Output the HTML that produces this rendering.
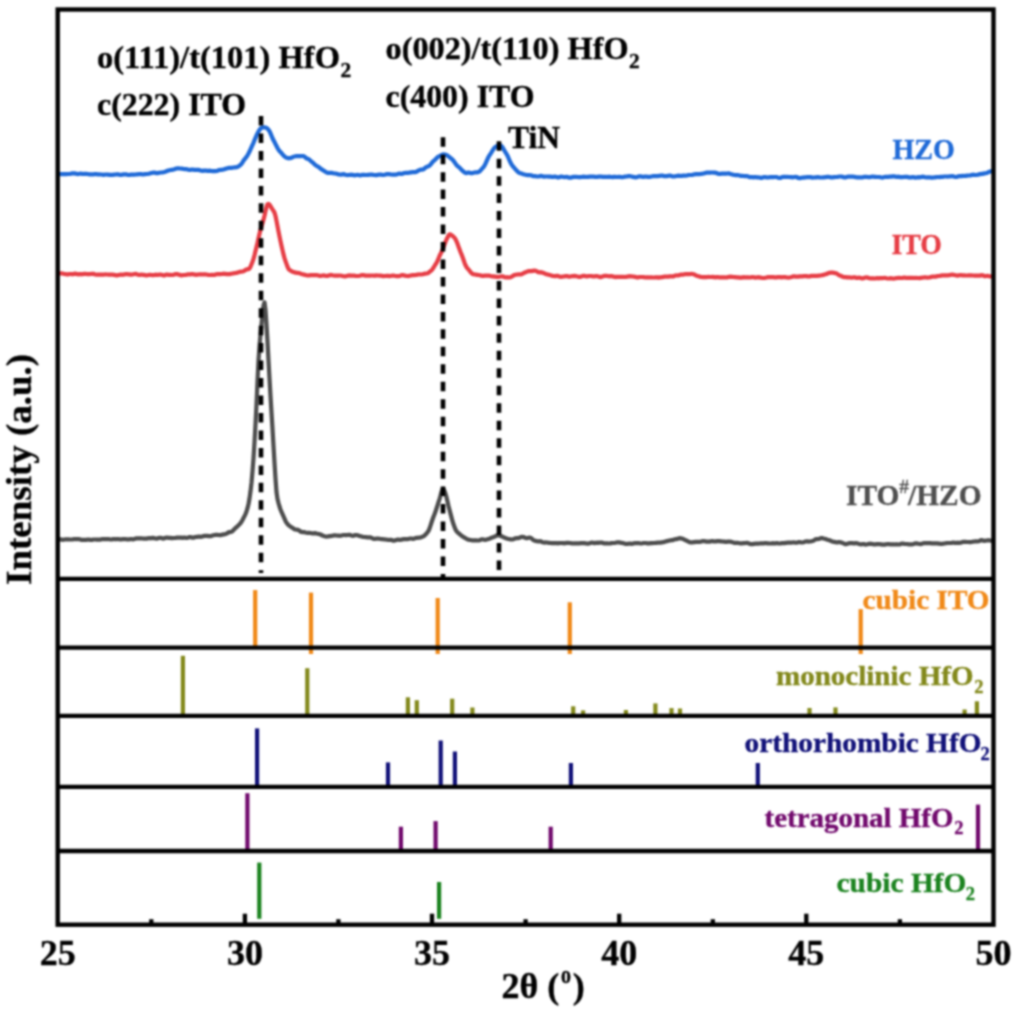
<!DOCTYPE html>
<html><head><meta charset="utf-8"><title>XRD patterns</title>
<style>html,body{margin:0;padding:0;background:#fff;width:1025px;height:1011px;overflow:hidden}</style>
</head><body>
<svg width="1025" height="1011" viewBox="0 0 1025 1011" style="display:block;font-family:'Liberation Serif','Times New Roman',serif;font-weight:bold">
<defs><filter id="bl" color-interpolation-filters="sRGB" x="0" y="0" width="1025" height="1011" filterUnits="userSpaceOnUse" primitiveUnits="userSpaceOnUse"><feConvolveMatrix order="5" kernelMatrix="0.00297 0.01331 0.02194 0.01331 0.00297 0.01331 0.05963 0.09832 0.05963 0.01331 0.02194 0.09832 0.16210 0.09832 0.02194 0.01331 0.05963 0.09832 0.05963 0.01331 0.00297 0.01331 0.02194 0.01331 0.00297" edgeMode="duplicate" preserveAlpha="true"/></filter></defs>
<rect width="1025" height="1011" fill="#fff"/>
<g filter="url(#bl)">
<rect width="1025" height="1011" fill="#fff"/>
<g fill="none" stroke-width="4.2" stroke-linejoin="round" stroke-linecap="round">
<path d="M58.5,173.7 L59.5,173.9 L60.5,174.1 L61.5,174.2 L62.5,174.2 L63.5,174.1 L64.5,174.2 L65.5,174.2 L66.5,174.1 L67.5,174.0 L68.5,174.0 L69.5,174.0 L70.5,173.8 L71.5,173.6 L72.5,173.3 L73.5,173.3 L74.5,173.4 L75.5,173.6 L76.5,173.8 L77.5,174.1 L78.5,174.0 L79.5,173.8 L80.5,173.6 L81.5,173.8 L82.5,173.9 L83.5,174.0 L84.5,173.8 L85.5,173.8 L86.5,173.9 L87.5,174.0 L88.5,174.2 L89.5,174.3 L90.5,174.3 L91.5,174.3 L92.5,174.3 L93.5,174.3 L94.5,174.2 L95.5,174.2 L96.5,174.2 L97.5,174.3 L98.5,174.4 L99.5,174.4 L100.5,174.5 L101.5,174.5 L102.5,174.7 L103.5,174.8 L104.5,174.7 L105.5,174.5 L106.5,174.5 L107.5,174.6 L108.5,174.7 L109.5,174.8 L110.5,174.8 L111.5,174.9 L112.5,174.9 L113.5,174.7 L114.5,174.6 L115.5,174.5 L116.5,174.4 L117.5,174.3 L118.5,174.4 L119.5,174.7 L120.5,174.9 L121.5,174.8 L122.5,174.6 L123.5,174.4 L124.5,174.3 L125.5,174.3 L126.5,174.4 L127.5,174.7 L128.5,175.0 L129.5,174.9 L130.5,174.7 L131.5,174.6 L132.5,174.6 L133.5,174.7 L134.5,174.6 L135.5,174.5 L136.5,174.4 L137.5,174.3 L138.5,174.2 L139.5,174.0 L140.5,174.1 L141.5,174.2 L142.5,174.4 L143.5,174.4 L144.5,174.2 L145.5,174.1 L146.5,174.0 L147.5,174.0 L148.5,173.8 L149.5,173.6 L150.5,173.3 L151.5,173.0 L152.5,172.7 L153.5,172.5 L154.5,172.6 L155.5,172.9 L156.5,173.1 L157.5,173.1 L158.5,172.9 L159.5,172.7 L160.5,172.5 L161.5,172.5 L162.5,172.4 L163.5,172.2 L164.5,172.0 L165.5,171.6 L166.5,171.2 L167.5,170.8 L168.5,170.5 L169.5,170.2 L170.5,170.0 L171.5,169.8 L172.5,169.8 L173.5,169.5 L174.5,169.2 L175.5,168.8 L176.5,168.5 L177.5,168.3 L178.5,168.3 L179.5,168.5 L180.5,168.5 L181.5,168.7 L182.5,168.7 L183.5,169.0 L184.5,169.1 L185.5,169.2 L186.5,169.2 L187.5,169.4 L188.5,169.7 L189.5,169.9 L190.5,169.8 L191.5,169.6 L192.5,169.6 L193.5,169.7 L194.5,169.9 L195.5,169.9 L196.5,169.9 L197.5,169.8 L198.5,169.9 L199.5,170.1 L200.5,170.5 L201.5,170.7 L202.5,170.8 L203.5,170.7 L204.5,170.6 L205.5,170.6 L206.5,170.7 L207.5,170.8 L208.5,170.8 L209.5,170.7 L210.5,170.8 L211.5,171.0 L212.5,171.2 L213.5,171.1 L214.5,171.1 L215.5,171.1 L216.5,171.0 L217.5,170.7 L218.5,170.3 L219.5,170.0 L220.5,169.8 L221.5,169.8 L222.5,169.7 L223.5,169.5 L224.5,169.1 L225.5,168.9 L226.5,168.5 L227.5,168.2 L228.5,167.9 L229.5,167.8 L230.5,167.9 L231.5,167.8 L232.5,167.7 L233.5,167.5 L234.5,167.4 L235.5,167.3 L236.5,167.2 L237.5,166.9 L238.5,166.4 L239.5,165.7 L240.5,164.9 L241.5,163.8 L242.5,162.3 L243.5,160.7 L244.5,159.3 L245.5,158.1 L246.5,156.8 L247.5,155.3 L248.5,153.5 L249.5,151.6 L250.5,149.4 L251.5,147.2 L252.5,144.9 L253.5,142.8 L254.5,140.3 L255.5,137.9 L256.5,135.5 L257.5,133.4 L258.5,131.5 L259.5,129.8 L260.5,128.6 L261.5,127.8 L262.5,127.4 L263.5,127.3 L264.5,127.4 L265.5,127.5 L266.5,127.9 L267.5,128.7 L268.5,129.8 L269.5,131.2 L270.5,133.4 L271.5,135.8 L272.5,138.2 L273.5,140.2 L274.5,142.1 L275.5,144.1 L276.5,146.0 L277.5,148.0 L278.5,149.7 L279.5,151.1 L280.5,152.0 L281.5,153.1 L282.5,154.3 L283.5,155.4 L284.5,156.4 L285.5,157.2 L286.5,157.8 L287.5,158.0 L288.5,158.3 L289.5,158.1 L290.5,158.1 L291.5,157.7 L292.5,157.3 L293.5,156.7 L294.5,156.5 L295.5,156.3 L296.5,156.1 L297.5,156.1 L298.5,156.2 L299.5,156.2 L300.5,156.2 L301.5,156.0 L302.5,156.0 L303.5,156.1 L304.5,156.7 L305.5,157.5 L306.5,158.3 L307.5,158.8 L308.5,159.1 L309.5,159.8 L310.5,160.7 L311.5,161.6 L312.5,162.4 L313.5,163.2 L314.5,164.2 L315.5,165.1 L316.5,165.8 L317.5,166.4 L318.5,166.9 L319.5,167.8 L320.5,168.5 L321.5,169.3 L322.5,169.9 L323.5,170.5 L324.5,171.1 L325.5,171.8 L326.5,172.4 L327.5,172.8 L328.5,172.9 L329.5,172.8 L330.5,172.8 L331.5,172.8 L332.5,173.1 L333.5,173.3 L334.5,173.5 L335.5,173.5 L336.5,173.8 L337.5,174.1 L338.5,174.4 L339.5,174.5 L340.5,174.6 L341.5,174.6 L342.5,174.3 L343.5,174.2 L344.5,174.3 L345.5,174.8 L346.5,175.0 L347.5,175.1 L348.5,175.0 L349.5,174.9 L350.5,174.8 L351.5,174.7 L352.5,174.9 L353.5,175.1 L354.5,175.3 L355.5,175.2 L356.5,175.0 L357.5,174.9 L358.5,175.0 L359.5,175.3 L360.5,175.3 L361.5,175.1 L362.5,174.8 L363.5,174.8 L364.5,174.9 L365.5,175.0 L366.5,175.0 L367.5,174.9 L368.5,174.8 L369.5,174.7 L370.5,174.5 L371.5,174.6 L372.5,174.7 L373.5,174.9 L374.5,175.0 L375.5,175.1 L376.5,175.1 L377.5,174.9 L378.5,174.7 L379.5,174.6 L380.5,174.6 L381.5,174.7 L382.5,174.9 L383.5,175.0 L384.5,174.8 L385.5,174.5 L386.5,174.2 L387.5,174.2 L388.5,174.1 L389.5,174.2 L390.5,174.4 L391.5,174.5 L392.5,174.7 L393.5,174.7 L394.5,174.7 L395.5,174.6 L396.5,174.5 L397.5,174.1 L398.5,173.7 L399.5,173.5 L400.5,173.8 L401.5,173.9 L402.5,173.7 L403.5,173.3 L404.5,173.0 L405.5,172.9 L406.5,172.9 L407.5,172.9 L408.5,172.8 L409.5,172.6 L410.5,172.4 L411.5,172.3 L412.5,172.2 L413.5,172.2 L414.5,172.2 L415.5,172.1 L416.5,171.7 L417.5,171.1 L418.5,170.5 L419.5,170.1 L420.5,169.7 L421.5,169.6 L422.5,169.6 L423.5,169.2 L424.5,168.5 L425.5,167.6 L426.5,167.0 L427.5,166.6 L428.5,166.3 L429.5,165.7 L430.5,164.6 L431.5,163.3 L432.5,162.1 L433.5,161.1 L434.5,160.2 L435.5,159.2 L436.5,158.2 L437.5,157.2 L438.5,156.7 L439.5,156.1 L440.5,155.6 L441.5,155.0 L442.5,154.6 L443.5,154.4 L444.5,154.5 L445.5,154.6 L446.5,155.0 L447.5,155.6 L448.5,156.4 L449.5,157.2 L450.5,158.0 L451.5,158.7 L452.5,159.6 L453.5,160.8 L454.5,162.2 L455.5,163.7 L456.5,165.0 L457.5,166.1 L458.5,166.8 L459.5,167.6 L460.5,168.7 L461.5,169.8 L462.5,170.8 L463.5,171.5 L464.5,172.4 L465.5,172.9 L466.5,173.1 L467.5,172.7 L468.5,172.7 L469.5,172.7 L470.5,173.1 L471.5,173.1 L472.5,173.1 L473.5,172.7 L474.5,172.5 L475.5,172.3 L476.5,172.4 L477.5,172.4 L478.5,172.0 L479.5,171.4 L480.5,170.4 L481.5,169.3 L482.5,168.2 L483.5,167.1 L484.5,165.6 L485.5,163.6 L486.5,161.4 L487.5,159.1 L488.5,157.0 L489.5,155.3 L490.5,153.8 L491.5,152.3 L492.5,150.6 L493.5,149.0 L494.5,147.7 L495.5,146.8 L496.5,146.3 L497.5,145.7 L498.5,145.3 L499.5,145.0 L500.5,145.3 L501.5,146.1 L502.5,147.4 L503.5,149.1 L504.5,150.8 L505.5,152.5 L506.5,153.9 L507.5,155.7 L508.5,158.0 L509.5,160.4 L510.5,162.6 L511.5,164.4 L512.5,165.9 L513.5,167.0 L514.5,168.2 L515.5,169.3 L516.5,170.4 L517.5,171.5 L518.5,172.4 L519.5,172.9 L520.5,173.2 L521.5,173.5 L522.5,173.9 L523.5,174.2 L524.5,174.5 L525.5,174.7 L526.5,175.0 L527.5,175.1 L528.5,175.2 L529.5,175.0 L530.5,175.2 L531.5,175.4 L532.5,175.9 L533.5,176.1 L534.5,176.2 L535.5,176.2 L536.5,176.4 L537.5,176.5 L538.5,176.5 L539.5,176.2 L540.5,175.9 L541.5,175.9 L542.5,176.2 L543.5,176.6 L544.5,176.7 L545.5,176.5 L546.5,176.5 L547.5,176.5 L548.5,176.7 L549.5,176.6 L550.5,176.7 L551.5,176.8 L552.5,177.0 L553.5,176.8 L554.5,176.7 L555.5,176.7 L556.5,177.0 L557.5,177.3 L558.5,177.4 L559.5,177.1 L560.5,176.7 L561.5,176.6 L562.5,176.8 L563.5,177.0 L564.5,177.1 L565.5,177.0 L566.5,176.9 L567.5,177.1 L568.5,177.4 L569.5,177.7 L570.5,177.7 L571.5,177.4 L572.5,177.1 L573.5,176.9 L574.5,176.9 L575.5,176.8 L576.5,176.9 L577.5,177.0 L578.5,177.1 L579.5,177.2 L580.5,177.1 L581.5,177.0 L582.5,176.8 L583.5,176.7 L584.5,176.8 L585.5,176.9 L586.5,177.0 L587.5,176.9 L588.5,176.8 L589.5,176.7 L590.5,176.6 L591.5,176.6 L592.5,176.6 L593.5,176.6 L594.5,176.8 L595.5,176.9 L596.5,177.0 L597.5,176.8 L598.5,176.7 L599.5,176.7 L600.5,176.7 L601.5,176.7 L602.5,176.8 L603.5,176.8 L604.5,176.9 L605.5,176.9 L606.5,177.0 L607.5,176.8 L608.5,176.8 L609.5,176.7 L610.5,176.9 L611.5,177.0 L612.5,177.1 L613.5,176.9 L614.5,176.9 L615.5,176.9 L616.5,177.0 L617.5,177.0 L618.5,176.9 L619.5,176.8 L620.5,177.0 L621.5,177.2 L622.5,177.2 L623.5,177.0 L624.5,176.7 L625.5,176.6 L626.5,176.5 L627.5,176.3 L628.5,176.2 L629.5,176.1 L630.5,176.3 L631.5,176.5 L632.5,176.8 L633.5,176.9 L634.5,177.2 L635.5,177.3 L636.5,177.2 L637.5,176.9 L638.5,176.5 L639.5,176.3 L640.5,176.4 L641.5,176.6 L642.5,176.8 L643.5,176.8 L644.5,176.7 L645.5,176.6 L646.5,176.6 L647.5,176.8 L648.5,176.9 L649.5,176.9 L650.5,176.7 L651.5,176.5 L652.5,176.3 L653.5,176.1 L654.5,176.0 L655.5,176.2 L656.5,176.2 L657.5,176.2 L658.5,175.9 L659.5,175.9 L660.5,175.7 L661.5,175.6 L662.5,175.6 L663.5,175.9 L664.5,176.2 L665.5,176.2 L666.5,176.2 L667.5,175.9 L668.5,175.8 L669.5,175.6 L670.5,175.7 L671.5,176.1 L672.5,176.4 L673.5,176.5 L674.5,176.4 L675.5,176.2 L676.5,176.0 L677.5,175.8 L678.5,175.7 L679.5,175.8 L680.5,175.9 L681.5,176.0 L682.5,175.7 L683.5,175.6 L684.5,175.5 L685.5,175.7 L686.5,175.5 L687.5,175.4 L688.5,175.0 L689.5,175.0 L690.5,175.0 L691.5,175.0 L692.5,174.9 L693.5,174.5 L694.5,174.3 L695.5,174.2 L696.5,174.1 L697.5,174.1 L698.5,174.2 L699.5,174.1 L700.5,174.0 L701.5,173.8 L702.5,173.7 L703.5,173.5 L704.5,173.2 L705.5,172.9 L706.5,172.7 L707.5,172.6 L708.5,172.6 L709.5,172.7 L710.5,172.6 L711.5,172.5 L712.5,172.5 L713.5,172.6 L714.5,172.7 L715.5,172.7 L716.5,173.0 L717.5,173.5 L718.5,173.9 L719.5,173.9 L720.5,173.8 L721.5,173.7 L722.5,173.7 L723.5,173.6 L724.5,173.5 L725.5,173.6 L726.5,173.6 L727.5,173.5 L728.5,173.4 L729.5,173.6 L730.5,174.0 L731.5,174.3 L732.5,174.6 L733.5,174.8 L734.5,175.0 L735.5,175.1 L736.5,175.2 L737.5,175.1 L738.5,175.3 L739.5,175.5 L740.5,175.8 L741.5,175.9 L742.5,175.9 L743.5,176.0 L744.5,176.1 L745.5,176.2 L746.5,176.0 L747.5,176.2 L748.5,176.6 L749.5,177.1 L750.5,177.2 L751.5,177.2 L752.5,177.2 L753.5,177.3 L754.5,177.2 L755.5,177.1 L756.5,177.3 L757.5,177.3 L758.5,177.4 L759.5,177.5 L760.5,177.8 L761.5,177.9 L762.5,177.6 L763.5,177.3 L764.5,177.0 L765.5,177.2 L766.5,177.3 L767.5,177.5 L768.5,177.4 L769.5,177.2 L770.5,177.0 L771.5,177.1 L772.5,177.1 L773.5,177.1 L774.5,177.0 L775.5,177.0 L776.5,177.0 L777.5,177.4 L778.5,177.7 L779.5,178.0 L780.5,177.9 L781.5,177.4 L782.5,177.0 L783.5,176.8 L784.5,176.8 L785.5,176.9 L786.5,177.0 L787.5,176.9 L788.5,177.0 L789.5,177.0 L790.5,177.2 L791.5,177.2 L792.5,177.3 L793.5,177.2 L794.5,177.0 L795.5,176.9 L796.5,177.0 L797.5,177.5 L798.5,178.0 L799.5,178.2 L800.5,178.1 L801.5,177.8 L802.5,177.6 L803.5,177.6 L804.5,177.4 L805.5,177.4 L806.5,177.2 L807.5,177.2 L808.5,177.1 L809.5,177.0 L810.5,177.1 L811.5,177.4 L812.5,177.6 L813.5,177.5 L814.5,177.5 L815.5,177.3 L816.5,177.3 L817.5,177.2 L818.5,177.2 L819.5,177.4 L820.5,177.5 L821.5,177.5 L822.5,177.5 L823.5,177.3 L824.5,177.3 L825.5,177.1 L826.5,177.1 L827.5,176.8 L828.5,176.9 L829.5,177.0 L830.5,177.4 L831.5,177.4 L832.5,177.4 L833.5,177.2 L834.5,177.1 L835.5,177.0 L836.5,177.0 L837.5,176.9 L838.5,176.7 L839.5,176.5 L840.5,176.5 L841.5,176.6 L842.5,176.8 L843.5,177.2 L844.5,177.4 L845.5,177.4 L846.5,177.1 L847.5,176.7 L848.5,176.5 L849.5,176.6 L850.5,176.7 L851.5,176.7 L852.5,176.7 L853.5,176.7 L854.5,176.9 L855.5,177.1 L856.5,177.3 L857.5,177.3 L858.5,177.4 L859.5,177.4 L860.5,177.5 L861.5,177.4 L862.5,177.3 L863.5,177.1 L864.5,176.8 L865.5,176.9 L866.5,176.9 L867.5,177.0 L868.5,177.1 L869.5,177.2 L870.5,177.0 L871.5,176.7 L872.5,176.5 L873.5,176.7 L874.5,176.8 L875.5,176.9 L876.5,177.0 L877.5,177.0 L878.5,177.0 L879.5,177.0 L880.5,177.3 L881.5,177.5 L882.5,177.6 L883.5,177.2 L884.5,177.0 L885.5,176.8 L886.5,176.9 L887.5,176.8 L888.5,176.8 L889.5,176.7 L890.5,176.7 L891.5,176.6 L892.5,176.4 L893.5,176.3 L894.5,176.4 L895.5,176.7 L896.5,176.8 L897.5,176.8 L898.5,176.7 L899.5,176.9 L900.5,177.2 L901.5,177.2 L902.5,177.1 L903.5,177.0 L904.5,176.9 L905.5,176.8 L906.5,176.8 L907.5,176.9 L908.5,177.3 L909.5,177.4 L910.5,177.5 L911.5,177.3 L912.5,177.2 L913.5,177.2 L914.5,177.4 L915.5,177.6 L916.5,177.5 L917.5,177.3 L918.5,177.2 L919.5,177.3 L920.5,177.2 L921.5,176.9 L922.5,176.7 L923.5,176.8 L924.5,177.1 L925.5,177.3 L926.5,177.5 L927.5,177.4 L928.5,177.3 L929.5,177.3 L930.5,177.5 L931.5,177.7 L932.5,177.6 L933.5,177.5 L934.5,177.3 L935.5,177.3 L936.5,177.1 L937.5,177.0 L938.5,177.0 L939.5,177.1 L940.5,176.9 L941.5,176.9 L942.5,176.8 L943.5,176.7 L944.5,176.5 L945.5,176.5 L946.5,176.5 L947.5,176.6 L948.5,176.5 L949.5,176.4 L950.5,176.4 L951.5,176.2 L952.5,176.2 L953.5,176.4 L954.5,176.8 L955.5,177.0 L956.5,177.0 L957.5,176.6 L958.5,176.3 L959.5,176.2 L960.5,176.1 L961.5,176.1 L962.5,175.9 L963.5,176.0 L964.5,175.9 L965.5,176.0 L966.5,175.7 L967.5,175.6 L968.5,175.5 L969.5,175.5 L970.5,175.4 L971.5,175.1 L972.5,174.8 L973.5,174.7 L974.5,174.9 L975.5,175.0 L976.5,175.0 L977.5,174.8 L978.5,174.6 L979.5,174.2 L980.5,174.1 L981.5,173.9 L982.5,173.9 L983.5,173.6 L984.5,173.4 L985.5,173.2 L986.5,173.0 L987.5,172.7 L988.5,172.2 L989.5,171.7 L990.5,171.4 L991.5,171.2" stroke="#1e69d7"/>
<path d="M58.5,273.2 L59.5,273.3 L60.5,273.3 L61.5,273.4 L62.5,273.5 L63.5,273.8 L64.5,274.0 L65.5,274.1 L66.5,274.3 L67.5,274.3 L68.5,274.3 L69.5,274.0 L70.5,274.0 L71.5,274.1 L72.5,274.3 L73.5,274.1 L74.5,273.7 L75.5,273.7 L76.5,273.9 L77.5,274.2 L78.5,274.3 L79.5,274.2 L80.5,274.2 L81.5,274.3 L82.5,274.1 L83.5,274.1 L84.5,273.8 L85.5,273.9 L86.5,274.0 L87.5,274.2 L88.5,274.1 L89.5,274.1 L90.5,274.0 L91.5,273.8 L92.5,273.8 L93.5,273.8 L94.5,274.2 L95.5,274.5 L96.5,274.7 L97.5,274.7 L98.5,274.7 L99.5,274.6 L100.5,274.6 L101.5,274.7 L102.5,274.7 L103.5,274.6 L104.5,274.5 L105.5,274.4 L106.5,274.5 L107.5,274.5 L108.5,274.6 L109.5,274.6 L110.5,274.6 L111.5,274.5 L112.5,274.6 L113.5,274.8 L114.5,274.9 L115.5,275.2 L116.5,275.3 L117.5,275.3 L118.5,275.0 L119.5,274.8 L120.5,274.7 L121.5,274.7 L122.5,274.8 L123.5,274.6 L124.5,274.4 L125.5,274.2 L126.5,274.2 L127.5,274.2 L128.5,274.4 L129.5,274.4 L130.5,274.6 L131.5,274.6 L132.5,274.5 L133.5,274.2 L134.5,274.0 L135.5,273.9 L136.5,274.1 L137.5,274.5 L138.5,274.8 L139.5,274.8 L140.5,274.8 L141.5,274.6 L142.5,274.8 L143.5,274.8 L144.5,275.1 L145.5,275.2 L146.5,275.4 L147.5,275.2 L148.5,275.0 L149.5,274.8 L150.5,274.9 L151.5,275.0 L152.5,275.2 L153.5,275.1 L154.5,275.0 L155.5,274.7 L156.5,274.8 L157.5,274.8 L158.5,274.8 L159.5,274.6 L160.5,274.5 L161.5,274.7 L162.5,275.1 L163.5,275.4 L164.5,275.3 L165.5,274.8 L166.5,274.6 L167.5,274.7 L168.5,274.8 L169.5,274.8 L170.5,274.9 L171.5,275.0 L172.5,275.0 L173.5,274.7 L174.5,274.4 L175.5,274.1 L176.5,274.1 L177.5,274.2 L178.5,274.6 L179.5,274.8 L180.5,275.2 L181.5,275.3 L182.5,275.2 L183.5,275.0 L184.5,275.0 L185.5,274.9 L186.5,274.7 L187.5,274.4 L188.5,274.4 L189.5,274.4 L190.5,274.4 L191.5,274.1 L192.5,274.2 L193.5,274.3 L194.5,274.6 L195.5,274.7 L196.5,274.8 L197.5,274.6 L198.5,274.5 L199.5,274.3 L200.5,274.3 L201.5,274.3 L202.5,274.5 L203.5,274.4 L204.5,274.3 L205.5,274.4 L206.5,274.5 L207.5,274.7 L208.5,274.9 L209.5,275.0 L210.5,275.0 L211.5,274.8 L212.5,274.8 L213.5,275.0 L214.5,274.9 L215.5,274.6 L216.5,274.3 L217.5,274.1 L218.5,274.1 L219.5,274.1 L220.5,274.2 L221.5,274.0 L222.5,273.9 L223.5,273.7 L224.5,273.8 L225.5,273.9 L226.5,274.1 L227.5,274.2 L228.5,274.2 L229.5,274.1 L230.5,273.9 L231.5,273.7 L232.5,273.5 L233.5,273.3 L234.5,273.2 L235.5,273.0 L236.5,272.9 L237.5,272.6 L238.5,272.2 L239.5,271.9 L240.5,271.7 L241.5,271.7 L242.5,271.5 L243.5,271.2 L244.5,270.6 L245.5,270.0 L246.5,269.5 L247.5,269.2 L248.5,269.1 L249.5,268.5 L250.5,266.7 L251.5,264.3 L252.5,261.7 L253.5,258.9 L254.5,255.2 L255.5,251.0 L256.5,246.9 L257.5,242.8 L258.5,238.2 L259.5,233.7 L260.5,229.9 L261.5,226.5 L262.5,223.1 L263.5,219.7 L264.5,215.7 L265.5,211.0 L266.5,206.9 L267.5,204.2 L268.5,203.9 L269.5,204.7 L270.5,206.2 L271.5,207.8 L272.5,209.4 L273.5,210.9 L274.5,212.6 L275.5,216.0 L276.5,220.9 L277.5,226.2 L278.5,231.3 L279.5,236.3 L280.5,241.1 L281.5,245.7 L282.5,250.1 L283.5,254.4 L284.5,258.1 L285.5,261.1 L286.5,263.9 L287.5,266.7 L288.5,268.9 L289.5,269.9 L290.5,270.6 L291.5,271.1 L292.5,271.7 L293.5,272.0 L294.5,272.4 L295.5,272.6 L296.5,272.8 L297.5,272.8 L298.5,273.0 L299.5,273.3 L300.5,273.6 L301.5,274.0 L302.5,274.3 L303.5,274.6 L304.5,274.7 L305.5,275.0 L306.5,275.3 L307.5,275.5 L308.5,275.4 L309.5,275.3 L310.5,275.2 L311.5,275.2 L312.5,275.1 L313.5,275.2 L314.5,275.1 L315.5,275.1 L316.5,275.0 L317.5,275.2 L318.5,275.5 L319.5,275.9 L320.5,275.9 L321.5,275.7 L322.5,275.5 L323.5,275.4 L324.5,275.6 L325.5,275.8 L326.5,276.0 L327.5,275.9 L328.5,275.6 L329.5,275.2 L330.5,274.9 L331.5,275.0 L332.5,275.3 L333.5,275.5 L334.5,275.6 L335.5,275.6 L336.5,275.7 L337.5,275.7 L338.5,275.6 L339.5,275.5 L340.5,275.5 L341.5,275.7 L342.5,276.0 L343.5,276.2 L344.5,276.3 L345.5,276.3 L346.5,276.1 L347.5,275.8 L348.5,275.5 L349.5,275.4 L350.5,275.6 L351.5,275.7 L352.5,275.6 L353.5,275.6 L354.5,275.7 L355.5,275.9 L356.5,276.0 L357.5,276.0 L358.5,276.0 L359.5,275.8 L360.5,275.5 L361.5,275.1 L362.5,275.0 L363.5,275.1 L364.5,275.4 L365.5,275.6 L366.5,275.7 L367.5,275.7 L368.5,275.6 L369.5,275.7 L370.5,275.6 L371.5,275.5 L372.5,275.5 L373.5,275.6 L374.5,275.6 L375.5,275.6 L376.5,275.4 L377.5,275.5 L378.5,275.5 L379.5,275.7 L380.5,275.6 L381.5,275.8 L382.5,275.9 L383.5,276.2 L384.5,276.0 L385.5,276.0 L386.5,275.8 L387.5,275.8 L388.5,275.9 L389.5,276.1 L390.5,276.0 L391.5,275.8 L392.5,275.6 L393.5,275.5 L394.5,275.8 L395.5,276.0 L396.5,276.1 L397.5,276.2 L398.5,276.2 L399.5,276.0 L400.5,275.6 L401.5,275.2 L402.5,275.1 L403.5,275.2 L404.5,275.6 L405.5,275.7 L406.5,275.9 L407.5,276.0 L408.5,276.1 L409.5,275.8 L410.5,275.5 L411.5,275.3 L412.5,275.2 L413.5,275.1 L414.5,275.1 L415.5,275.0 L416.5,274.9 L417.5,274.6 L418.5,274.5 L419.5,274.4 L420.5,274.5 L421.5,274.5 L422.5,274.3 L423.5,274.1 L424.5,273.7 L425.5,273.7 L426.5,273.5 L427.5,273.3 L428.5,272.8 L429.5,271.9 L430.5,271.1 L431.5,270.3 L432.5,269.2 L433.5,267.6 L434.5,266.0 L435.5,264.4 L436.5,262.8 L437.5,260.9 L438.5,258.5 L439.5,256.0 L440.5,253.9 L441.5,252.0 L442.5,249.9 L443.5,247.3 L444.5,244.5 L445.5,241.8 L446.5,239.5 L447.5,237.6 L448.5,235.5 L449.5,234.4 L450.5,234.4 L451.5,235.1 L452.5,235.9 L453.5,236.8 L454.5,237.7 L455.5,239.1 L456.5,241.3 L457.5,243.8 L458.5,246.6 L459.5,249.3 L460.5,252.0 L461.5,254.3 L462.5,256.9 L463.5,259.7 L464.5,262.7 L465.5,265.2 L466.5,267.1 L467.5,268.3 L468.5,269.5 L469.5,270.7 L470.5,272.0 L471.5,273.1 L472.5,273.9 L473.5,274.2 L474.5,274.4 L475.5,274.5 L476.5,274.8 L477.5,274.9 L478.5,275.0 L479.5,275.2 L480.5,275.4 L481.5,275.7 L482.5,275.8 L483.5,275.8 L484.5,275.7 L485.5,275.6 L486.5,275.7 L487.5,275.7 L488.5,275.7 L489.5,275.6 L490.5,276.0 L491.5,276.2 L492.5,276.5 L493.5,276.4 L494.5,276.6 L495.5,276.6 L496.5,276.9 L497.5,276.9 L498.5,276.9 L499.5,276.7 L500.5,276.5 L501.5,276.3 L502.5,276.4 L503.5,276.6 L504.5,277.1 L505.5,277.3 L506.5,277.4 L507.5,277.2 L508.5,277.4 L509.5,277.5 L510.5,277.3 L511.5,276.7 L512.5,276.1 L513.5,275.5 L514.5,275.0 L515.5,274.8 L516.5,274.6 L517.5,274.5 L518.5,274.4 L519.5,274.4 L520.5,274.5 L521.5,274.2 L522.5,273.8 L523.5,273.2 L524.5,272.7 L525.5,272.3 L526.5,271.9 L527.5,271.5 L528.5,271.1 L529.5,271.0 L530.5,271.1 L531.5,271.1 L532.5,270.9 L533.5,270.8 L534.5,270.5 L535.5,270.7 L536.5,271.1 L537.5,271.8 L538.5,272.2 L539.5,272.3 L540.5,272.2 L541.5,272.4 L542.5,272.6 L543.5,273.0 L544.5,273.4 L545.5,273.9 L546.5,274.2 L547.5,274.4 L548.5,274.7 L549.5,274.9 L550.5,275.3 L551.5,275.6 L552.5,275.9 L553.5,276.0 L554.5,276.1 L555.5,276.1 L556.5,275.9 L557.5,275.9 L558.5,276.1 L559.5,276.6 L560.5,276.8 L561.5,276.8 L562.5,276.6 L563.5,276.5 L564.5,276.3 L565.5,276.2 L566.5,276.1 L567.5,276.2 L568.5,276.6 L569.5,276.7 L570.5,276.5 L571.5,276.3 L572.5,276.1 L573.5,276.1 L574.5,275.9 L575.5,276.0 L576.5,276.3 L577.5,276.5 L578.5,276.8 L579.5,276.8 L580.5,276.8 L581.5,276.4 L582.5,276.1 L583.5,275.8 L584.5,275.9 L585.5,276.2 L586.5,276.3 L587.5,276.3 L588.5,276.1 L589.5,276.0 L590.5,276.0 L591.5,276.1 L592.5,276.3 L593.5,276.4 L594.5,276.4 L595.5,276.2 L596.5,276.1 L597.5,276.3 L598.5,276.6 L599.5,276.9 L600.5,277.1 L601.5,276.9 L602.5,276.5 L603.5,276.1 L604.5,275.9 L605.5,275.8 L606.5,275.8 L607.5,276.0 L608.5,276.2 L609.5,276.3 L610.5,276.2 L611.5,276.2 L612.5,276.3 L613.5,276.7 L614.5,276.8 L615.5,277.1 L616.5,276.9 L617.5,276.9 L618.5,276.8 L619.5,276.8 L620.5,276.9 L621.5,276.8 L622.5,276.9 L623.5,276.9 L624.5,277.0 L625.5,276.9 L626.5,276.8 L627.5,276.6 L628.5,276.4 L629.5,276.2 L630.5,276.3 L631.5,276.3 L632.5,276.5 L633.5,276.6 L634.5,276.8 L635.5,276.9 L636.5,277.3 L637.5,277.3 L638.5,277.3 L639.5,277.0 L640.5,277.0 L641.5,277.0 L642.5,277.0 L643.5,277.1 L644.5,277.3 L645.5,277.5 L646.5,277.4 L647.5,277.4 L648.5,277.4 L649.5,277.5 L650.5,277.4 L651.5,277.4 L652.5,277.5 L653.5,277.5 L654.5,277.5 L655.5,277.3 L656.5,277.4 L657.5,277.4 L658.5,277.6 L659.5,277.4 L660.5,277.4 L661.5,277.2 L662.5,277.1 L663.5,276.9 L664.5,276.6 L665.5,276.5 L666.5,276.6 L667.5,276.7 L668.5,276.6 L669.5,276.4 L670.5,276.3 L671.5,276.4 L672.5,276.4 L673.5,276.3 L674.5,275.8 L675.5,275.5 L676.5,275.4 L677.5,275.5 L678.5,275.4 L679.5,275.1 L680.5,274.7 L681.5,274.6 L682.5,274.6 L683.5,274.6 L684.5,274.3 L685.5,274.1 L686.5,274.0 L687.5,274.2 L688.5,274.2 L689.5,274.2 L690.5,274.0 L691.5,273.9 L692.5,274.0 L693.5,274.2 L694.5,274.7 L695.5,275.2 L696.5,275.6 L697.5,276.0 L698.5,276.3 L699.5,276.6 L700.5,276.9 L701.5,277.0 L702.5,277.1 L703.5,277.1 L704.5,277.2 L705.5,277.2 L706.5,277.1 L707.5,277.0 L708.5,276.9 L709.5,277.0 L710.5,277.0 L711.5,277.0 L712.5,276.9 L713.5,277.1 L714.5,277.2 L715.5,277.3 L716.5,277.2 L717.5,277.2 L718.5,277.2 L719.5,277.4 L720.5,277.4 L721.5,277.4 L722.5,277.4 L723.5,277.4 L724.5,277.4 L725.5,277.5 L726.5,277.4 L727.5,277.3 L728.5,276.9 L729.5,276.8 L730.5,276.7 L731.5,276.8 L732.5,276.9 L733.5,277.0 L734.5,277.2 L735.5,277.2 L736.5,277.3 L737.5,277.3 L738.5,277.4 L739.5,277.6 L740.5,277.7 L741.5,277.6 L742.5,277.4 L743.5,277.2 L744.5,277.3 L745.5,277.4 L746.5,277.4 L747.5,277.4 L748.5,277.4 L749.5,277.5 L750.5,277.4 L751.5,277.2 L752.5,277.0 L753.5,277.2 L754.5,277.4 L755.5,277.6 L756.5,277.5 L757.5,277.3 L758.5,277.2 L759.5,277.4 L760.5,277.6 L761.5,277.8 L762.5,278.0 L763.5,278.0 L764.5,277.9 L765.5,277.7 L766.5,277.5 L767.5,277.2 L768.5,277.2 L769.5,277.1 L770.5,277.1 L771.5,277.0 L772.5,277.2 L773.5,277.2 L774.5,277.3 L775.5,277.3 L776.5,277.3 L777.5,277.2 L778.5,277.1 L779.5,277.1 L780.5,277.2 L781.5,277.3 L782.5,277.2 L783.5,277.0 L784.5,277.1 L785.5,277.2 L786.5,277.4 L787.5,277.5 L788.5,277.6 L789.5,277.5 L790.5,277.3 L791.5,277.0 L792.5,276.6 L793.5,276.4 L794.5,276.4 L795.5,276.6 L796.5,276.7 L797.5,276.6 L798.5,276.6 L799.5,276.4 L800.5,276.4 L801.5,276.3 L802.5,276.3 L803.5,276.2 L804.5,276.1 L805.5,276.0 L806.5,276.1 L807.5,276.4 L808.5,276.5 L809.5,276.4 L810.5,276.1 L811.5,275.9 L812.5,275.8 L813.5,275.9 L814.5,275.8 L815.5,275.9 L816.5,275.8 L817.5,275.8 L818.5,275.7 L819.5,275.7 L820.5,275.5 L821.5,275.3 L822.5,275.1 L823.5,274.9 L824.5,274.6 L825.5,274.3 L826.5,274.0 L827.5,273.5 L828.5,273.1 L829.5,272.8 L830.5,272.7 L831.5,272.7 L832.5,272.6 L833.5,272.8 L834.5,272.9 L835.5,273.2 L836.5,273.4 L837.5,274.1 L838.5,274.8 L839.5,275.3 L840.5,275.8 L841.5,276.1 L842.5,276.7 L843.5,276.9 L844.5,277.2 L845.5,277.0 L846.5,277.3 L847.5,277.3 L848.5,277.4 L849.5,277.4 L850.5,277.5 L851.5,277.7 L852.5,277.5 L853.5,277.4 L854.5,277.3 L855.5,277.6 L856.5,277.9 L857.5,277.9 L858.5,277.7 L859.5,277.7 L860.5,277.9 L861.5,278.3 L862.5,278.3 L863.5,278.2 L864.5,277.8 L865.5,277.5 L866.5,277.4 L867.5,277.5 L868.5,278.0 L869.5,278.2 L870.5,278.4 L871.5,278.3 L872.5,278.3 L873.5,278.4 L874.5,278.5 L875.5,278.4 L876.5,278.2 L877.5,278.2 L878.5,278.3 L879.5,278.2 L880.5,278.2 L881.5,278.2 L882.5,278.1 L883.5,278.0 L884.5,277.9 L885.5,278.0 L886.5,278.3 L887.5,278.5 L888.5,278.5 L889.5,278.4 L890.5,278.2 L891.5,278.3 L892.5,278.5 L893.5,278.6 L894.5,278.5 L895.5,278.3 L896.5,278.1 L897.5,278.0 L898.5,277.9 L899.5,277.9 L900.5,278.0 L901.5,278.0 L902.5,277.9 L903.5,277.7 L904.5,277.6 L905.5,277.8 L906.5,277.9 L907.5,278.0 L908.5,277.8 L909.5,277.9 L910.5,277.8 L911.5,277.9 L912.5,277.9 L913.5,278.0 L914.5,277.9 L915.5,278.0 L916.5,277.9 L917.5,278.0 L918.5,278.0 L919.5,278.1 L920.5,277.9 L921.5,277.8 L922.5,277.6 L923.5,277.5 L924.5,277.4 L925.5,277.4 L926.5,277.5 L927.5,277.6 L928.5,277.5 L929.5,277.4 L930.5,277.2 L931.5,276.8 L932.5,276.6 L933.5,276.6 L934.5,276.7 L935.5,276.6 L936.5,276.4 L937.5,276.1 L938.5,276.0 L939.5,275.9 L940.5,275.7 L941.5,275.6 L942.5,275.3 L943.5,275.3 L944.5,275.4 L945.5,275.4 L946.5,275.4 L947.5,275.3 L948.5,275.3 L949.5,275.1 L950.5,274.9 L951.5,274.7 L952.5,274.7 L953.5,274.8 L954.5,275.0 L955.5,275.2 L956.5,275.5 L957.5,275.6 L958.5,275.4 L959.5,275.2 L960.5,275.0 L961.5,275.2 L962.5,275.3 L963.5,275.4 L964.5,275.4 L965.5,275.5 L966.5,275.5 L967.5,275.5 L968.5,275.4 L969.5,275.3 L970.5,275.3 L971.5,275.3 L972.5,275.5 L973.5,275.5 L974.5,275.6 L975.5,275.6 L976.5,275.6 L977.5,275.5 L978.5,275.6 L979.5,275.7 L980.5,275.4 L981.5,275.2 L982.5,275.3 L983.5,275.6 L984.5,276.1 L985.5,276.1 L986.5,276.0 L987.5,275.8 L988.5,276.1 L989.5,276.3 L990.5,276.4 L991.5,276.3" stroke="#e63c44"/>
<path d="M58.5,539.1 L59.5,539.1 L60.5,539.4 L61.5,539.6 L62.5,539.8 L63.5,539.7 L64.5,539.5 L65.5,539.4 L66.5,539.3 L67.5,539.3 L68.5,539.3 L69.5,539.5 L70.5,539.5 L71.5,539.5 L72.5,539.4 L73.5,539.2 L74.5,539.2 L75.5,539.1 L76.5,539.1 L77.5,539.1 L78.5,539.1 L79.5,539.3 L80.5,539.6 L81.5,539.9 L82.5,539.9 L83.5,539.9 L84.5,539.8 L85.5,539.9 L86.5,539.8 L87.5,539.6 L88.5,539.6 L89.5,539.7 L90.5,539.9 L91.5,539.8 L92.5,539.8 L93.5,539.5 L94.5,539.5 L95.5,539.5 L96.5,539.6 L97.5,539.6 L98.5,539.7 L99.5,539.7 L100.5,539.6 L101.5,539.3 L102.5,539.1 L103.5,539.0 L104.5,539.2 L105.5,539.2 L106.5,539.2 L107.5,539.1 L108.5,539.1 L109.5,539.3 L110.5,539.5 L111.5,539.5 L112.5,539.2 L113.5,539.2 L114.5,539.1 L115.5,539.3 L116.5,539.1 L117.5,539.1 L118.5,539.1 L119.5,539.3 L120.5,539.3 L121.5,539.3 L122.5,539.2 L123.5,539.1 L124.5,539.0 L125.5,539.1 L126.5,539.3 L127.5,539.4 L128.5,539.4 L129.5,539.3 L130.5,539.1 L131.5,539.1 L132.5,539.3 L133.5,539.3 L134.5,538.9 L135.5,538.6 L136.5,538.4 L137.5,538.4 L138.5,538.3 L139.5,538.3 L140.5,538.3 L141.5,538.4 L142.5,538.5 L143.5,538.6 L144.5,538.7 L145.5,538.7 L146.5,538.6 L147.5,538.4 L148.5,538.2 L149.5,538.2 L150.5,538.3 L151.5,538.1 L152.5,537.9 L153.5,537.9 L154.5,538.2 L155.5,538.5 L156.5,538.6 L157.5,538.4 L158.5,538.1 L159.5,537.8 L160.5,537.8 L161.5,538.1 L162.5,538.4 L163.5,538.6 L164.5,538.2 L165.5,537.8 L166.5,537.7 L167.5,537.7 L168.5,537.8 L169.5,537.8 L170.5,537.9 L171.5,538.1 L172.5,538.1 L173.5,538.0 L174.5,538.0 L175.5,537.9 L176.5,537.7 L177.5,537.6 L178.5,537.6 L179.5,537.6 L180.5,537.6 L181.5,537.7 L182.5,537.8 L183.5,537.7 L184.5,537.7 L185.5,537.7 L186.5,537.9 L187.5,537.7 L188.5,537.4 L189.5,537.0 L190.5,537.1 L191.5,537.4 L192.5,537.7 L193.5,537.6 L194.5,537.4 L195.5,537.0 L196.5,536.9 L197.5,536.8 L198.5,536.7 L199.5,536.7 L200.5,536.8 L201.5,536.7 L202.5,536.4 L203.5,536.1 L204.5,535.9 L205.5,535.8 L206.5,535.8 L207.5,535.9 L208.5,536.1 L209.5,536.2 L210.5,536.2 L211.5,535.9 L212.5,535.5 L213.5,535.2 L214.5,535.0 L215.5,534.9 L216.5,534.9 L217.5,534.9 L218.5,535.0 L219.5,535.1 L220.5,535.1 L221.5,534.9 L222.5,534.6 L223.5,534.4 L224.5,534.3 L225.5,534.0 L226.5,533.6 L227.5,533.0 L228.5,532.5 L229.5,532.0 L230.5,532.0 L231.5,531.7 L232.5,531.1 L233.5,530.0 L234.5,529.0 L235.5,528.0 L236.5,527.2 L237.5,526.2 L238.5,525.3 L239.5,524.3 L240.5,523.2 L241.5,521.8 L242.5,520.0 L243.5,518.1 L244.5,516.1 L245.5,514.1 L246.5,511.4 L247.5,508.2 L248.5,504.0 L249.5,498.5 L250.5,491.4 L251.5,482.7 L252.5,471.4 L253.5,458.1 L254.5,442.2 L255.5,424.4 L256.5,404.5 L257.5,381.7 L258.5,360.5 L259.5,346.2 L260.5,334.5 L261.5,324.7 L262.5,314.3 L263.5,305.7 L264.5,302.3 L265.5,309.9 L266.5,325.0 L267.5,341.4 L268.5,360.6 L269.5,378.3 L270.5,395.8 L271.5,412.5 L272.5,428.7 L273.5,445.9 L274.5,462.7 L275.5,478.7 L276.5,492.1 L277.5,499.0 L278.5,503.1 L279.5,506.5 L280.5,509.5 L281.5,511.9 L282.5,514.1 L283.5,516.3 L284.5,518.7 L285.5,520.9 L286.5,522.7 L287.5,524.0 L288.5,525.1 L289.5,525.9 L290.5,526.6 L291.5,527.2 L292.5,527.9 L293.5,528.5 L294.5,529.2 L295.5,529.5 L296.5,529.7 L297.5,529.7 L298.5,530.1 L299.5,530.7 L300.5,531.5 L301.5,532.0 L302.5,532.1 L303.5,532.1 L304.5,532.2 L305.5,532.5 L306.5,532.7 L307.5,532.9 L308.5,532.8 L309.5,532.9 L310.5,533.0 L311.5,533.2 L312.5,533.4 L313.5,533.4 L314.5,533.2 L315.5,533.2 L316.5,533.5 L317.5,533.7 L318.5,534.0 L319.5,534.1 L320.5,534.5 L321.5,535.0 L322.5,535.5 L323.5,535.9 L324.5,536.3 L325.5,536.5 L326.5,536.6 L327.5,536.5 L328.5,536.4 L329.5,536.1 L330.5,536.1 L331.5,535.9 L332.5,535.7 L333.5,535.4 L334.5,535.3 L335.5,535.4 L336.5,535.5 L337.5,535.6 L338.5,535.6 L339.5,535.8 L340.5,535.7 L341.5,535.5 L342.5,535.2 L343.5,535.0 L344.5,535.0 L345.5,535.1 L346.5,535.1 L347.5,535.0 L348.5,534.9 L349.5,534.9 L350.5,535.1 L351.5,535.5 L352.5,535.8 L353.5,535.7 L354.5,535.3 L355.5,535.0 L356.5,535.0 L357.5,535.2 L358.5,535.7 L359.5,535.9 L360.5,536.2 L361.5,536.4 L362.5,536.7 L363.5,537.0 L364.5,537.0 L365.5,537.1 L366.5,537.2 L367.5,537.4 L368.5,537.3 L369.5,537.3 L370.5,537.3 L371.5,537.8 L372.5,538.4 L373.5,538.8 L374.5,538.8 L375.5,538.8 L376.5,538.6 L377.5,538.6 L378.5,538.6 L379.5,538.8 L380.5,539.0 L381.5,539.2 L382.5,539.1 L383.5,539.3 L384.5,539.3 L385.5,539.5 L386.5,539.6 L387.5,539.8 L388.5,540.0 L389.5,539.9 L390.5,539.8 L391.5,539.9 L392.5,540.4 L393.5,540.7 L394.5,540.6 L395.5,540.3 L396.5,539.8 L397.5,539.7 L398.5,539.7 L399.5,539.8 L400.5,539.8 L401.5,539.6 L402.5,539.4 L403.5,539.1 L404.5,539.2 L405.5,539.1 L406.5,539.1 L407.5,539.1 L408.5,539.0 L409.5,538.6 L410.5,538.5 L411.5,538.5 L412.5,538.9 L413.5,538.9 L414.5,538.5 L415.5,538.1 L416.5,537.8 L417.5,537.8 L418.5,537.7 L419.5,537.7 L420.5,537.5 L421.5,537.1 L422.5,536.8 L423.5,536.2 L424.5,535.6 L425.5,534.6 L426.5,533.5 L427.5,532.2 L428.5,530.9 L429.5,528.6 L430.5,525.6 L431.5,522.5 L432.5,519.5 L433.5,516.7 L434.5,514.2 L435.5,511.5 L436.5,508.5 L437.5,505.3 L438.5,502.1 L439.5,499.1 L440.5,495.6 L441.5,491.7 L442.5,489.3 L443.5,489.0 L444.5,491.1 L445.5,493.8 L446.5,497.2 L447.5,501.5 L448.5,506.0 L449.5,509.8 L450.5,513.6 L451.5,517.4 L452.5,521.2 L453.5,524.3 L454.5,526.9 L455.5,529.4 L456.5,531.2 L457.5,532.3 L458.5,533.1 L459.5,534.0 L460.5,534.8 L461.5,535.7 L462.5,536.4 L463.5,537.0 L464.5,537.7 L465.5,538.2 L466.5,538.8 L467.5,539.3 L468.5,539.7 L469.5,539.8 L470.5,540.0 L471.5,540.2 L472.5,540.4 L473.5,540.3 L474.5,540.3 L475.5,540.3 L476.5,540.4 L477.5,540.5 L478.5,540.5 L479.5,540.2 L480.5,539.8 L481.5,539.3 L482.5,539.3 L483.5,539.5 L484.5,539.8 L485.5,539.8 L486.5,539.6 L487.5,539.3 L488.5,539.0 L489.5,538.7 L490.5,538.2 L491.5,537.8 L492.5,537.4 L493.5,537.1 L494.5,536.6 L495.5,536.2 L496.5,535.6 L497.5,535.3 L498.5,535.3 L499.5,535.6 L500.5,535.9 L501.5,536.3 L502.5,536.7 L503.5,537.2 L504.5,537.8 L505.5,538.1 L506.5,538.4 L507.5,538.8 L508.5,539.0 L509.5,539.2 L510.5,539.3 L511.5,539.5 L512.5,539.4 L513.5,539.2 L514.5,538.7 L515.5,538.3 L516.5,538.2 L517.5,538.2 L518.5,538.1 L519.5,537.7 L520.5,537.3 L521.5,536.9 L522.5,536.9 L523.5,537.0 L524.5,537.5 L525.5,537.9 L526.5,538.2 L527.5,538.1 L528.5,537.7 L529.5,537.5 L530.5,537.7 L531.5,538.4 L532.5,539.3 L533.5,540.1 L534.5,540.6 L535.5,540.9 L536.5,541.1 L537.5,541.3 L538.5,541.4 L539.5,541.2 L540.5,541.3 L541.5,541.6 L542.5,542.3 L543.5,542.5 L544.5,542.6 L545.5,542.4 L546.5,542.5 L547.5,542.6 L548.5,542.8 L549.5,542.9 L550.5,543.0 L551.5,543.1 L552.5,543.2 L553.5,543.2 L554.5,543.1 L555.5,543.1 L556.5,543.1 L557.5,543.3 L558.5,543.2 L559.5,543.1 L560.5,543.0 L561.5,543.0 L562.5,543.1 L563.5,543.2 L564.5,543.3 L565.5,543.1 L566.5,542.9 L567.5,542.8 L568.5,542.8 L569.5,543.0 L570.5,543.1 L571.5,543.3 L572.5,543.4 L573.5,543.5 L574.5,543.3 L575.5,543.3 L576.5,543.3 L577.5,543.4 L578.5,543.4 L579.5,543.3 L580.5,543.2 L581.5,543.1 L582.5,543.2 L583.5,543.2 L584.5,543.2 L585.5,543.3 L586.5,543.5 L587.5,543.7 L588.5,543.6 L589.5,543.2 L590.5,542.9 L591.5,542.6 L592.5,542.7 L593.5,542.9 L594.5,543.1 L595.5,542.9 L596.5,542.8 L597.5,542.7 L598.5,542.8 L599.5,542.7 L600.5,542.6 L601.5,542.5 L602.5,542.8 L603.5,543.2 L604.5,543.4 L605.5,543.4 L606.5,543.3 L607.5,543.4 L608.5,543.5 L609.5,543.5 L610.5,543.4 L611.5,543.1 L612.5,543.0 L613.5,543.0 L614.5,543.0 L615.5,542.8 L616.5,542.5 L617.5,542.3 L618.5,542.3 L619.5,542.4 L620.5,542.7 L621.5,542.8 L622.5,543.0 L623.5,543.3 L624.5,543.6 L625.5,543.8 L626.5,543.9 L627.5,543.9 L628.5,543.7 L629.5,543.7 L630.5,543.7 L631.5,543.8 L632.5,543.7 L633.5,543.4 L634.5,543.2 L635.5,543.2 L636.5,543.2 L637.5,543.1 L638.5,543.1 L639.5,543.3 L640.5,543.5 L641.5,543.5 L642.5,543.3 L643.5,543.0 L644.5,543.0 L645.5,543.0 L646.5,543.2 L647.5,543.3 L648.5,543.4 L649.5,543.3 L650.5,543.2 L651.5,543.1 L652.5,543.1 L653.5,543.0 L654.5,543.0 L655.5,542.9 L656.5,542.8 L657.5,542.7 L658.5,542.7 L659.5,542.7 L660.5,542.6 L661.5,542.4 L662.5,542.3 L663.5,542.1 L664.5,541.9 L665.5,541.5 L666.5,541.2 L667.5,541.1 L668.5,540.8 L669.5,540.5 L670.5,540.3 L671.5,540.2 L672.5,540.2 L673.5,539.8 L674.5,539.4 L675.5,539.2 L676.5,539.1 L677.5,538.9 L678.5,538.5 L679.5,538.2 L680.5,538.3 L681.5,538.4 L682.5,538.7 L683.5,539.1 L684.5,539.7 L685.5,540.3 L686.5,540.6 L687.5,541.2 L688.5,541.7 L689.5,542.2 L690.5,542.3 L691.5,542.4 L692.5,542.3 L693.5,542.2 L694.5,542.1 L695.5,541.9 L696.5,541.8 L697.5,541.8 L698.5,541.9 L699.5,541.9 L700.5,541.7 L701.5,541.4 L702.5,541.2 L703.5,541.1 L704.5,541.2 L705.5,541.4 L706.5,541.6 L707.5,541.7 L708.5,541.7 L709.5,541.6 L710.5,541.4 L711.5,541.2 L712.5,541.2 L713.5,541.3 L714.5,541.5 L715.5,541.4 L716.5,541.3 L717.5,541.0 L718.5,541.1 L719.5,541.2 L720.5,541.3 L721.5,541.4 L722.5,541.5 L723.5,541.6 L724.5,541.7 L725.5,541.8 L726.5,541.8 L727.5,541.7 L728.5,541.7 L729.5,541.7 L730.5,541.7 L731.5,541.9 L732.5,542.3 L733.5,542.6 L734.5,542.9 L735.5,542.8 L736.5,542.9 L737.5,542.8 L738.5,543.0 L739.5,543.2 L740.5,543.4 L741.5,543.4 L742.5,543.3 L743.5,543.1 L744.5,543.2 L745.5,543.0 L746.5,542.9 L747.5,542.8 L748.5,543.3 L749.5,543.7 L750.5,544.1 L751.5,544.1 L752.5,544.1 L753.5,543.9 L754.5,543.8 L755.5,543.6 L756.5,543.7 L757.5,543.7 L758.5,543.6 L759.5,543.5 L760.5,543.4 L761.5,543.4 L762.5,543.4 L763.5,543.4 L764.5,543.2 L765.5,543.1 L766.5,543.2 L767.5,543.4 L768.5,543.4 L769.5,543.5 L770.5,543.5 L771.5,543.5 L772.5,543.2 L773.5,543.3 L774.5,543.3 L775.5,543.3 L776.5,543.2 L777.5,543.2 L778.5,543.4 L779.5,543.5 L780.5,543.4 L781.5,543.2 L782.5,543.2 L783.5,543.1 L784.5,543.1 L785.5,542.9 L786.5,542.8 L787.5,542.7 L788.5,542.7 L789.5,542.7 L790.5,542.7 L791.5,542.6 L792.5,542.5 L793.5,542.4 L794.5,542.5 L795.5,542.7 L796.5,542.7 L797.5,542.5 L798.5,542.1 L799.5,542.0 L800.5,542.2 L801.5,542.5 L802.5,542.5 L803.5,542.3 L804.5,541.9 L805.5,541.5 L806.5,541.4 L807.5,541.4 L808.5,541.6 L809.5,541.5 L810.5,541.5 L811.5,541.2 L812.5,541.0 L813.5,540.6 L814.5,540.0 L815.5,539.3 L816.5,539.1 L817.5,539.1 L818.5,539.0 L819.5,538.7 L820.5,538.3 L821.5,538.1 L822.5,538.2 L823.5,538.5 L824.5,538.7 L825.5,539.0 L826.5,539.3 L827.5,539.8 L828.5,540.0 L829.5,540.3 L830.5,540.7 L831.5,541.2 L832.5,541.6 L833.5,541.8 L834.5,541.9 L835.5,542.2 L836.5,542.3 L837.5,542.3 L838.5,542.2 L839.5,542.2 L840.5,542.3 L841.5,542.6 L842.5,542.9 L843.5,543.4 L844.5,543.8 L845.5,544.2 L846.5,544.1 L847.5,543.8 L848.5,543.3 L849.5,543.2 L850.5,543.1 L851.5,543.2 L852.5,543.2 L853.5,543.3 L854.5,543.3 L855.5,543.2 L856.5,543.2 L857.5,543.4 L858.5,543.8 L859.5,544.1 L860.5,544.3 L861.5,544.3 L862.5,544.1 L863.5,544.2 L864.5,544.2 L865.5,544.6 L866.5,544.5 L867.5,544.3 L868.5,543.9 L869.5,543.8 L870.5,543.7 L871.5,543.9 L872.5,544.1 L873.5,544.3 L874.5,544.3 L875.5,544.3 L876.5,544.2 L877.5,544.2 L878.5,544.1 L879.5,544.1 L880.5,544.3 L881.5,544.4 L882.5,544.7 L883.5,544.6 L884.5,544.7 L885.5,544.4 L886.5,544.2 L887.5,544.0 L888.5,544.1 L889.5,544.2 L890.5,544.4 L891.5,544.3 L892.5,544.4 L893.5,544.3 L894.5,544.5 L895.5,544.4 L896.5,544.4 L897.5,544.4 L898.5,544.5 L899.5,544.4 L900.5,544.2 L901.5,543.7 L902.5,543.6 L903.5,543.7 L904.5,543.9 L905.5,544.0 L906.5,544.0 L907.5,544.1 L908.5,544.3 L909.5,544.3 L910.5,544.3 L911.5,544.3 L912.5,544.3 L913.5,544.0 L914.5,543.6 L915.5,543.4 L916.5,543.4 L917.5,543.6 L918.5,543.8 L919.5,544.0 L920.5,544.1 L921.5,543.9 L922.5,543.6 L923.5,543.3 L924.5,543.0 L925.5,543.1 L926.5,543.2 L927.5,543.2 L928.5,543.2 L929.5,543.1 L930.5,543.2 L931.5,543.3 L932.5,543.4 L933.5,543.4 L934.5,543.4 L935.5,543.3 L936.5,543.3 L937.5,543.4 L938.5,543.6 L939.5,543.7 L940.5,543.8 L941.5,543.8 L942.5,543.8 L943.5,543.6 L944.5,543.5 L945.5,543.3 L946.5,543.1 L947.5,543.0 L948.5,543.0 L949.5,543.0 L950.5,543.0 L951.5,542.9 L952.5,542.7 L953.5,542.6 L954.5,542.8 L955.5,542.9 L956.5,542.9 L957.5,542.7 L958.5,542.8 L959.5,542.8 L960.5,542.7 L961.5,542.4 L962.5,542.1 L963.5,541.8 L964.5,541.8 L965.5,541.8 L966.5,542.0 L967.5,542.0 L968.5,542.0 L969.5,542.1 L970.5,542.2 L971.5,542.0 L972.5,541.8 L973.5,541.6 L974.5,541.5 L975.5,541.4 L976.5,541.4 L977.5,541.5 L978.5,541.3 L979.5,540.8 L980.5,540.3 L981.5,540.1 L982.5,540.4 L983.5,540.7 L984.5,540.8 L985.5,540.7 L986.5,540.5 L987.5,540.4 L988.5,540.2 L989.5,540.4 L990.5,540.5 L991.5,540.8" stroke="#4c4c4c"/>
</g>
<g stroke="#000" stroke-width="4.6" stroke-dasharray="9.5 7.97">
<line x1="261.0" y1="116.0" x2="261.0" y2="573.0"/>
<line x1="443.0" y1="137.2" x2="443.0" y2="577.0"/>
<line x1="499.0" y1="141.2" x2="499.0" y2="577.0"/>
</g>
<g stroke="#f08816" stroke-width="4.2">
<line x1="255.2" y1="590.1" x2="255.2" y2="647.65"/>
<line x1="311.0" y1="592.6" x2="311.0" y2="654.0"/>
<line x1="437.7" y1="598.0" x2="437.7" y2="654.0"/>
<line x1="569.8" y1="602.3" x2="569.8" y2="654.0"/>
<line x1="860.7" y1="609.1" x2="860.7" y2="654.0"/>
</g>
<g stroke="#82881a" stroke-width="4.2">
<line x1="182.9" y1="655.8" x2="182.9" y2="715.9"/>
<line x1="307.3" y1="668.2" x2="307.3" y2="715.9"/>
<line x1="407.9" y1="697.3" x2="407.9" y2="715.9"/>
<line x1="416.8" y1="700.2" x2="416.8" y2="715.9"/>
<line x1="452.2" y1="698.7" x2="452.2" y2="715.9"/>
<line x1="472.4" y1="707.5" x2="472.4" y2="715.9"/>
<line x1="573.2" y1="706.3" x2="573.2" y2="715.9"/>
<line x1="583.1" y1="710.4" x2="583.1" y2="715.9"/>
<line x1="625.9" y1="710.0" x2="625.9" y2="715.9"/>
<line x1="655.4" y1="703.4" x2="655.4" y2="715.9"/>
<line x1="671.5" y1="708.1" x2="671.5" y2="715.9"/>
<line x1="680.0" y1="708.5" x2="680.0" y2="715.9"/>
<line x1="809.5" y1="708.0" x2="809.5" y2="715.9"/>
<line x1="835.5" y1="707.4" x2="835.5" y2="715.9"/>
<line x1="964.6" y1="709.5" x2="964.6" y2="715.9"/>
<line x1="976.9" y1="701.3" x2="976.9" y2="715.9"/>
</g>
<g stroke="#101078" stroke-width="4.2">
<line x1="257.1" y1="728.4" x2="257.1" y2="786.8"/>
<line x1="388.0" y1="762.4" x2="388.0" y2="786.8"/>
<line x1="440.7" y1="740.5" x2="440.7" y2="786.8"/>
<line x1="454.9" y1="751.5" x2="454.9" y2="786.8"/>
<line x1="570.9" y1="763.0" x2="570.9" y2="786.8"/>
<line x1="757.8" y1="763.0" x2="757.8" y2="786.8"/>
</g>
<g stroke="#70086c" stroke-width="4.2">
<line x1="247.4" y1="793.2" x2="247.4" y2="851.0"/>
<line x1="400.9" y1="826.7" x2="400.9" y2="851.0"/>
<line x1="435.6" y1="821.1" x2="435.6" y2="851.0"/>
<line x1="550.7" y1="826.7" x2="550.7" y2="851.0"/>
<line x1="978.0" y1="804.6" x2="978.0" y2="851.0"/>
</g>
<g stroke="#1a821e" stroke-width="4.2">
<line x1="259.3" y1="862.6" x2="259.3" y2="918.8"/>
<line x1="439.1" y1="882.0" x2="439.1" y2="918.8"/>
</g>
<g stroke="#000" fill="none">
<line x1="57.7" y1="578.8" x2="993.5" y2="578.8" stroke-width="4.3"/>
<line x1="57.7" y1="647.65" x2="993.5" y2="647.65" stroke-width="4.3"/>
<line x1="57.7" y1="715.9" x2="993.5" y2="715.9" stroke-width="4.3"/>
<line x1="57.7" y1="786.8" x2="993.5" y2="786.8" stroke-width="4.3"/>
<line x1="57.7" y1="851.0" x2="993.5" y2="851.0" stroke-width="4.3"/>
<rect x="57.7" y="9.5" width="935.8" height="915.2" stroke-width="4.4"/>
<line x1="151.3" y1="924.7" x2="151.3" y2="919.2" stroke-width="4.3"/>
<line x1="244.9" y1="924.7" x2="244.9" y2="913.7" stroke-width="4.3"/>
<line x1="338.4" y1="924.7" x2="338.4" y2="919.2" stroke-width="4.3"/>
<line x1="432.0" y1="924.7" x2="432.0" y2="913.7" stroke-width="4.3"/>
<line x1="525.6" y1="924.7" x2="525.6" y2="919.2" stroke-width="4.3"/>
<line x1="619.2" y1="924.7" x2="619.2" y2="913.7" stroke-width="4.3"/>
<line x1="712.8" y1="924.7" x2="712.8" y2="919.2" stroke-width="4.3"/>
<line x1="806.3" y1="924.7" x2="806.3" y2="913.7" stroke-width="4.3"/>
<line x1="899.9" y1="924.7" x2="899.9" y2="919.2" stroke-width="4.3"/>
</g>
<text x="97" y="68.3" font-size="31" fill="#000" stroke="#000" stroke-width="0.35" text-anchor="start" textLength="243" lengthAdjust="spacingAndGlyphs">o(111)/t(101) HfO</text>
<text x="340.5" y="76.6" font-size="21.5" fill="#000" stroke="#000" stroke-width="0.35" text-anchor="start">2</text>
<text x="97" y="115.2" font-size="31" fill="#000" stroke="#000" stroke-width="0.35" text-anchor="start" textLength="149" lengthAdjust="spacingAndGlyphs">c(222) ITO</text>
<text x="385.5" y="59.3" font-size="31" fill="#000" stroke="#000" stroke-width="0.35" text-anchor="start" textLength="243" lengthAdjust="spacingAndGlyphs">o(002)/t(110) HfO</text>
<text x="629" y="67.6" font-size="21.5" fill="#000" stroke="#000" stroke-width="0.35" text-anchor="start">2</text>
<text x="385.5" y="106.6" font-size="31" fill="#000" stroke="#000" stroke-width="0.35" text-anchor="start" textLength="149" lengthAdjust="spacingAndGlyphs">c(400) ITO</text>
<text x="508" y="147.8" font-size="31" fill="#000" stroke="#000" stroke-width="0.35" text-anchor="start" textLength="52" lengthAdjust="spacingAndGlyphs">TiN</text>
<text x="892.5" y="158.8" font-size="29" fill="#1e69d7" stroke="#1e69d7" stroke-width="0.35" text-anchor="start" textLength="62.5" lengthAdjust="spacingAndGlyphs">HZO</text>
<text x="891.5" y="253.7" font-size="29" fill="#e63c44" stroke="#e63c44" stroke-width="0.35" text-anchor="start" textLength="50.5" lengthAdjust="spacingAndGlyphs">ITO</text>
<text x="846" y="505.1" font-size="29" fill="#4e4e4e" stroke="#4e4e4e" stroke-width="0.35" text-anchor="start" textLength="53.5" lengthAdjust="spacingAndGlyphs">ITO</text>
<text x="899.2" y="493.0" font-size="19.5" fill="#4e4e4e" stroke="#4e4e4e" stroke-width="0.35" text-anchor="start" font-weight="normal">#</text>
<text x="908" y="505.1" font-size="29" fill="#4e4e4e" stroke="#4e4e4e" stroke-width="0.35" text-anchor="start" textLength="73.5" lengthAdjust="spacingAndGlyphs">/HZO</text>
<text x="862.6" y="609.1" font-size="27" fill="#f08816" stroke="#f08816" stroke-width="0.35" text-anchor="start" textLength="127" lengthAdjust="spacingAndGlyphs">cubic ITO</text>
<text x="776" y="685.4" font-size="28" fill="#82881a" stroke="#82881a" stroke-width="0.35" text-anchor="start" textLength="197.5" lengthAdjust="spacingAndGlyphs">monoclinic HfO</text>
<text x="974.3" y="693" font-size="18.5" fill="#82881a" stroke="#82881a" stroke-width="0.35" text-anchor="start">2</text>
<text x="744.5" y="751.6" font-size="28" fill="#101078" stroke="#101078" stroke-width="0.35" text-anchor="start" textLength="237" lengthAdjust="spacingAndGlyphs">orthorhombic HfO</text>
<text x="980.6" y="759.6" font-size="18.5" fill="#101078" stroke="#101078" stroke-width="0.35" text-anchor="start">2</text>
<text x="764.5" y="826.6" font-size="28" fill="#70086c" stroke="#70086c" stroke-width="0.35" text-anchor="start" textLength="189" lengthAdjust="spacingAndGlyphs">tetragonal HfO</text>
<text x="954.2" y="833.6" font-size="18.5" fill="#70086c" stroke="#70086c" stroke-width="0.35" text-anchor="start">2</text>
<text x="836.5" y="891.9" font-size="28" fill="#1a821e" stroke="#1a821e" stroke-width="0.35" text-anchor="start" textLength="130" lengthAdjust="spacingAndGlyphs">cubic HfO</text>
<text x="965.8" y="900.3" font-size="18.5" fill="#1a821e" stroke="#1a821e" stroke-width="0.35" text-anchor="start">2</text>
<text x="57.7" y="965.4" font-size="36" fill="#000" stroke="#000" stroke-width="0.35" text-anchor="middle">25</text>
<text x="244.9" y="965.4" font-size="36" fill="#000" stroke="#000" stroke-width="0.35" text-anchor="middle">30</text>
<text x="432.0" y="965.4" font-size="36" fill="#000" stroke="#000" stroke-width="0.35" text-anchor="middle">35</text>
<text x="619.2" y="965.4" font-size="36" fill="#000" stroke="#000" stroke-width="0.35" text-anchor="middle">40</text>
<text x="806.3" y="965.4" font-size="36" fill="#000" stroke="#000" stroke-width="0.35" text-anchor="middle">45</text>
<text x="993.5" y="965.4" font-size="36" fill="#000" stroke="#000" stroke-width="0.35" text-anchor="middle">50</text>
<text x="501.5" y="997.9" font-size="36" fill="#000" stroke="#000" stroke-width="0.35" text-anchor="start">2θ (</text>
<text x="0" y="0" font-size="21" fill="#000" stroke="#000" stroke-width="0.35" transform="translate(561,983.2) scale(0.95,1.2)">o</text>
<text x="572.8" y="997.9" font-size="36" fill="#000" stroke="#000" stroke-width="0.35" text-anchor="start">)</text>
<text x="0" y="0" font-size="36" fill="#000" stroke="#000" stroke-width="0.35" text-anchor="middle" textLength="231" lengthAdjust="spacingAndGlyphs" transform="translate(31,469.4) rotate(-90)">Intensity (a.u.)</text>
</g>
</svg>
</body></html>
